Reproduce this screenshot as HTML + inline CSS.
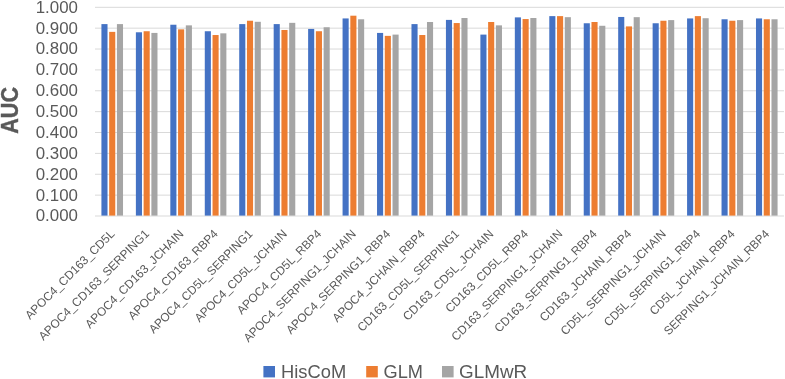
<!DOCTYPE html><html><head><meta charset="utf-8"><title>AUC chart</title><style>html,body{margin:0;padding:0;background:#fff}svg{display:block}</style></head><body>
<svg width="785" height="379" viewBox="0 0 785 379">
<rect width="785" height="379" fill="#ffffff"/>
<line x1="95.0" x2="784.0" y1="7.30" y2="7.30" stroke="#D9D9D9" stroke-width="1"/>
<line x1="95.0" x2="784.0" y1="28.17" y2="28.17" stroke="#D9D9D9" stroke-width="1"/>
<line x1="95.0" x2="784.0" y1="49.04" y2="49.04" stroke="#D9D9D9" stroke-width="1"/>
<line x1="95.0" x2="784.0" y1="69.91" y2="69.91" stroke="#D9D9D9" stroke-width="1"/>
<line x1="95.0" x2="784.0" y1="90.78" y2="90.78" stroke="#D9D9D9" stroke-width="1"/>
<line x1="95.0" x2="784.0" y1="111.65" y2="111.65" stroke="#D9D9D9" stroke-width="1"/>
<line x1="95.0" x2="784.0" y1="132.52" y2="132.52" stroke="#D9D9D9" stroke-width="1"/>
<line x1="95.0" x2="784.0" y1="153.39" y2="153.39" stroke="#D9D9D9" stroke-width="1"/>
<line x1="95.0" x2="784.0" y1="174.26" y2="174.26" stroke="#D9D9D9" stroke-width="1"/>
<line x1="95.0" x2="784.0" y1="195.13" y2="195.13" stroke="#D9D9D9" stroke-width="1"/>
<line x1="95.0" x2="784.0" y1="216.00" y2="216.00" stroke="#D9D9D9" stroke-width="1"/>
<text transform="translate(77.9,12.70) scale(1.055,1)" text-anchor="end" font-family="Liberation Sans, Arial, sans-serif" font-size="16" fill="#595959">1.000</text>
<text transform="translate(77.9,33.57) scale(1.055,1)" text-anchor="end" font-family="Liberation Sans, Arial, sans-serif" font-size="16" fill="#595959">0.900</text>
<text transform="translate(77.9,54.44) scale(1.055,1)" text-anchor="end" font-family="Liberation Sans, Arial, sans-serif" font-size="16" fill="#595959">0.800</text>
<text transform="translate(77.9,75.31) scale(1.055,1)" text-anchor="end" font-family="Liberation Sans, Arial, sans-serif" font-size="16" fill="#595959">0.700</text>
<text transform="translate(77.9,96.18) scale(1.055,1)" text-anchor="end" font-family="Liberation Sans, Arial, sans-serif" font-size="16" fill="#595959">0.600</text>
<text transform="translate(77.9,117.05) scale(1.055,1)" text-anchor="end" font-family="Liberation Sans, Arial, sans-serif" font-size="16" fill="#595959">0.500</text>
<text transform="translate(77.9,137.92) scale(1.055,1)" text-anchor="end" font-family="Liberation Sans, Arial, sans-serif" font-size="16" fill="#595959">0.400</text>
<text transform="translate(77.9,158.79) scale(1.055,1)" text-anchor="end" font-family="Liberation Sans, Arial, sans-serif" font-size="16" fill="#595959">0.300</text>
<text transform="translate(77.9,179.66) scale(1.055,1)" text-anchor="end" font-family="Liberation Sans, Arial, sans-serif" font-size="16" fill="#595959">0.200</text>
<text transform="translate(77.9,200.53) scale(1.055,1)" text-anchor="end" font-family="Liberation Sans, Arial, sans-serif" font-size="16" fill="#595959">0.100</text>
<text transform="translate(77.9,221.40) scale(1.055,1)" text-anchor="end" font-family="Liberation Sans, Arial, sans-serif" font-size="16" fill="#595959">0.000</text>
<rect x="101.42" y="24.10" width="6.1" height="191.50" fill="#4472C4"/>
<rect x="109.17" y="31.87" width="6.1" height="183.73" fill="#ED7D31"/>
<rect x="116.92" y="24.10" width="6.1" height="191.50" fill="#A5A5A5"/>
<rect x="135.88" y="32.29" width="6.1" height="183.31" fill="#4472C4"/>
<rect x="143.62" y="31.24" width="6.1" height="184.36" fill="#ED7D31"/>
<rect x="151.38" y="32.92" width="6.1" height="182.68" fill="#A5A5A5"/>
<rect x="170.32" y="24.73" width="6.1" height="190.87" fill="#4472C4"/>
<rect x="178.07" y="29.35" width="6.1" height="186.25" fill="#ED7D31"/>
<rect x="185.82" y="25.36" width="6.1" height="190.24" fill="#A5A5A5"/>
<rect x="204.78" y="31.24" width="6.1" height="184.36" fill="#4472C4"/>
<rect x="212.53" y="35.02" width="6.1" height="180.58" fill="#ED7D31"/>
<rect x="220.28" y="33.34" width="6.1" height="182.26" fill="#A5A5A5"/>
<rect x="239.22" y="24.10" width="6.1" height="191.50" fill="#4472C4"/>
<rect x="246.97" y="20.74" width="6.1" height="194.86" fill="#ED7D31"/>
<rect x="254.72" y="21.79" width="6.1" height="193.81" fill="#A5A5A5"/>
<rect x="273.68" y="24.10" width="6.1" height="191.50" fill="#4472C4"/>
<rect x="281.43" y="29.98" width="6.1" height="185.62" fill="#ED7D31"/>
<rect x="289.18" y="22.84" width="6.1" height="192.76" fill="#A5A5A5"/>
<rect x="308.12" y="28.93" width="6.1" height="186.67" fill="#4472C4"/>
<rect x="315.88" y="31.24" width="6.1" height="184.36" fill="#ED7D31"/>
<rect x="323.62" y="27.25" width="6.1" height="188.35" fill="#A5A5A5"/>
<rect x="342.57" y="18.43" width="6.1" height="197.17" fill="#4472C4"/>
<rect x="350.32" y="15.70" width="6.1" height="199.90" fill="#ED7D31"/>
<rect x="358.07" y="19.27" width="6.1" height="196.33" fill="#A5A5A5"/>
<rect x="377.03" y="32.92" width="6.1" height="182.68" fill="#4472C4"/>
<rect x="384.78" y="35.86" width="6.1" height="179.74" fill="#ED7D31"/>
<rect x="392.53" y="34.60" width="6.1" height="181.00" fill="#A5A5A5"/>
<rect x="411.48" y="24.10" width="6.1" height="191.50" fill="#4472C4"/>
<rect x="419.23" y="35.02" width="6.1" height="180.58" fill="#ED7D31"/>
<rect x="426.98" y="22.00" width="6.1" height="193.60" fill="#A5A5A5"/>
<rect x="445.93" y="19.90" width="6.1" height="195.70" fill="#4472C4"/>
<rect x="453.68" y="23.05" width="6.1" height="192.55" fill="#ED7D31"/>
<rect x="461.43" y="18.01" width="6.1" height="197.59" fill="#A5A5A5"/>
<rect x="480.38" y="34.60" width="6.1" height="181.00" fill="#4472C4"/>
<rect x="488.12" y="22.00" width="6.1" height="193.60" fill="#ED7D31"/>
<rect x="495.88" y="25.36" width="6.1" height="190.24" fill="#A5A5A5"/>
<rect x="514.83" y="17.38" width="6.1" height="198.22" fill="#4472C4"/>
<rect x="522.58" y="19.06" width="6.1" height="196.54" fill="#ED7D31"/>
<rect x="530.33" y="18.01" width="6.1" height="197.59" fill="#A5A5A5"/>
<rect x="549.28" y="16.12" width="6.1" height="199.48" fill="#4472C4"/>
<rect x="557.03" y="16.12" width="6.1" height="199.48" fill="#ED7D31"/>
<rect x="564.78" y="17.17" width="6.1" height="198.43" fill="#A5A5A5"/>
<rect x="583.73" y="23.26" width="6.1" height="192.34" fill="#4472C4"/>
<rect x="591.48" y="22.00" width="6.1" height="193.60" fill="#ED7D31"/>
<rect x="599.23" y="25.78" width="6.1" height="189.82" fill="#A5A5A5"/>
<rect x="618.18" y="16.96" width="6.1" height="198.64" fill="#4472C4"/>
<rect x="625.93" y="26.41" width="6.1" height="189.19" fill="#ED7D31"/>
<rect x="633.68" y="17.17" width="6.1" height="198.43" fill="#A5A5A5"/>
<rect x="652.63" y="23.26" width="6.1" height="192.34" fill="#4472C4"/>
<rect x="660.38" y="20.74" width="6.1" height="194.86" fill="#ED7D31"/>
<rect x="668.13" y="20.11" width="6.1" height="195.49" fill="#A5A5A5"/>
<rect x="687.08" y="18.43" width="6.1" height="197.17" fill="#4472C4"/>
<rect x="694.83" y="16.12" width="6.1" height="199.48" fill="#ED7D31"/>
<rect x="702.58" y="18.22" width="6.1" height="197.38" fill="#A5A5A5"/>
<rect x="721.53" y="19.27" width="6.1" height="196.33" fill="#4472C4"/>
<rect x="729.28" y="20.74" width="6.1" height="194.86" fill="#ED7D31"/>
<rect x="737.03" y="20.11" width="6.1" height="195.49" fill="#A5A5A5"/>
<rect x="755.98" y="18.43" width="6.1" height="197.17" fill="#4472C4"/>
<rect x="763.73" y="19.27" width="6.1" height="196.33" fill="#ED7D31"/>
<rect x="771.48" y="19.27" width="6.1" height="196.33" fill="#A5A5A5"/>
<text transform="translate(115.42,234.60) rotate(-45) scale(0.9900,1)" text-anchor="end" font-family="Liberation Sans, Arial, sans-serif" font-size="12" fill="#595959">APOC4_CD163_CD5L</text>
<text transform="translate(149.88,234.60) rotate(-45) scale(0.9900,1)" text-anchor="end" font-family="Liberation Sans, Arial, sans-serif" font-size="12" fill="#595959">APOC4_CD163_SERPING1</text>
<text transform="translate(184.32,234.60) rotate(-45) scale(0.9900,1)" text-anchor="end" font-family="Liberation Sans, Arial, sans-serif" font-size="12" fill="#595959">APOC4_CD163_JCHAIN</text>
<text transform="translate(218.78,234.60) rotate(-45) scale(0.9900,1)" text-anchor="end" font-family="Liberation Sans, Arial, sans-serif" font-size="12" fill="#595959">APOC4_CD163_RBP4</text>
<text transform="translate(253.22,234.60) rotate(-45) scale(0.9694,1)" text-anchor="end" font-family="Liberation Sans, Arial, sans-serif" font-size="12" fill="#595959">APOC4_CD5L_SERPING1</text>
<text transform="translate(287.68,234.60) rotate(-45) scale(0.9752,1)" text-anchor="end" font-family="Liberation Sans, Arial, sans-serif" font-size="12" fill="#595959">APOC4_CD5L_JCHAIN</text>
<text transform="translate(322.12,234.60) rotate(-45) scale(0.9814,1)" text-anchor="end" font-family="Liberation Sans, Arial, sans-serif" font-size="12" fill="#595959">APOC4_CD5L_RBP4</text>
<text transform="translate(356.57,234.60) rotate(-45) scale(0.9685,1)" text-anchor="end" font-family="Liberation Sans, Arial, sans-serif" font-size="12" fill="#595959">APOC4_SERPING1_JCHAIN</text>
<text transform="translate(391.03,234.60) rotate(-45) scale(0.9708,1)" text-anchor="end" font-family="Liberation Sans, Arial, sans-serif" font-size="12" fill="#595959">APOC4_SERPING1_RBP4</text>
<text transform="translate(425.48,234.60) rotate(-45) scale(0.9706,1)" text-anchor="end" font-family="Liberation Sans, Arial, sans-serif" font-size="12" fill="#595959">APOC4_JCHAIN_RBP4</text>
<text transform="translate(459.93,234.60) rotate(-45) scale(0.9745,1)" text-anchor="end" font-family="Liberation Sans, Arial, sans-serif" font-size="12" fill="#595959">CD163_CD5L_SERPING1</text>
<text transform="translate(494.38,234.60) rotate(-45) scale(0.9844,1)" text-anchor="end" font-family="Liberation Sans, Arial, sans-serif" font-size="12" fill="#595959">CD163_CD5L_JCHAIN</text>
<text transform="translate(528.83,234.60) rotate(-45) scale(0.9873,1)" text-anchor="end" font-family="Liberation Sans, Arial, sans-serif" font-size="12" fill="#595959">CD163_CD5L_RBP4</text>
<text transform="translate(563.28,234.60) rotate(-45) scale(0.9784,1)" text-anchor="end" font-family="Liberation Sans, Arial, sans-serif" font-size="12" fill="#595959">CD163_SERPING1_JCHAIN</text>
<text transform="translate(597.73,234.60) rotate(-45) scale(0.9760,1)" text-anchor="end" font-family="Liberation Sans, Arial, sans-serif" font-size="12" fill="#595959">CD163_SERPING1_RBP4</text>
<text transform="translate(632.18,234.60) rotate(-45) scale(0.9900,1)" text-anchor="end" font-family="Liberation Sans, Arial, sans-serif" font-size="12" fill="#595959">CD163_JCHAIN_RBP4</text>
<text transform="translate(666.63,234.60) rotate(-45) scale(0.9664,1)" text-anchor="end" font-family="Liberation Sans, Arial, sans-serif" font-size="12" fill="#595959">CD5L_SERPING1_JCHAIN</text>
<text transform="translate(701.08,234.60) rotate(-45) scale(0.9606,1)" text-anchor="end" font-family="Liberation Sans, Arial, sans-serif" font-size="12" fill="#595959">CD5L_SERPING1_RBP4</text>
<text transform="translate(735.53,234.60) rotate(-45) scale(0.9664,1)" text-anchor="end" font-family="Liberation Sans, Arial, sans-serif" font-size="12" fill="#595959">CD5L_JCHAIN_RBP4</text>
<text transform="translate(769.98,234.60) rotate(-45) scale(0.9631,1)" text-anchor="end" font-family="Liberation Sans, Arial, sans-serif" font-size="12" fill="#595959">SERPING1_JCHAIN_RBP4</text>
<text transform="translate(18,110.4) rotate(-90) scale(0.88,1)" text-anchor="middle" font-family="Liberation Sans, Arial, sans-serif" font-size="24.5" font-weight="bold" fill="#595959" stroke="#595959" stroke-width="0.4">AUC</text>
<rect x="263.4" y="366" width="11.6" height="11.4" fill="#4472C4"/>
<text transform="translate(281.0,377.9) scale(1.043,1)" font-family="Liberation Sans, Arial, sans-serif" font-size="17.6" fill="#595959">HisCoM</text>
<rect x="366.2" y="366" width="11.6" height="11.4" fill="#ED7D31"/>
<text transform="translate(383.5,377.9) scale(1.034,1)" font-family="Liberation Sans, Arial, sans-serif" font-size="17.6" fill="#595959">GLM</text>
<rect x="442.0" y="366" width="11.6" height="11.4" fill="#A5A5A5"/>
<text transform="translate(459.0,377.9) scale(1.073,1)" font-family="Liberation Sans, Arial, sans-serif" font-size="17.6" fill="#595959">GLMwR</text>
</svg></body></html>
